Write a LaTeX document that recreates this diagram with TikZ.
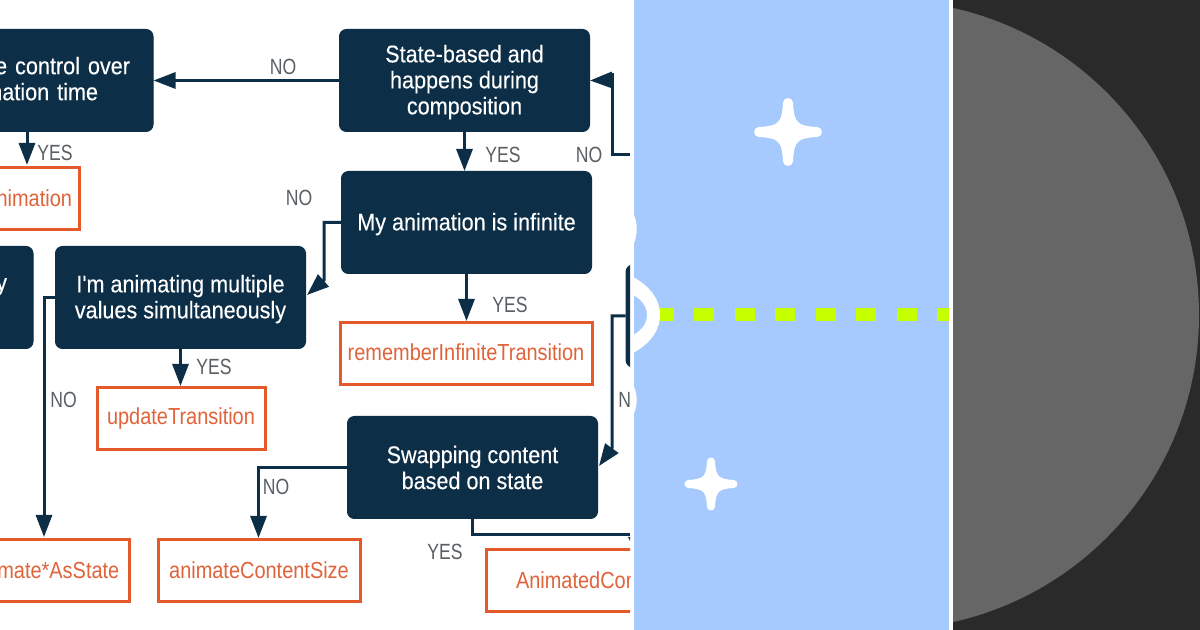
\documentclass[tikz,border=0pt]{standalone}
\usepackage{fontspec}
\setmainfont[FakeStretch=0.86]{Liberation Sans}
\newfontfamily\boxfont[FakeStretch=0.9,FakeBold=0.2]{Liberation Sans}
\newfontfamily\answerfont[FakeStretch=0.8]{Liberation Sans}
\usetikzlibrary{arrows.meta}
\definecolor{navy}{HTML}{0D2E47}
\definecolor{rust}{HTML}{E45A2B}
\definecolor{rusttext}{HTML}{E0633A}
\definecolor{labelgrey}{HTML}{5A5F63}
\definecolor{skyblue}{HTML}{A6CAFD}
\definecolor{lime}{HTML}{C6FF00}
\definecolor{charcoal}{HTML}{2A2A2A}
\definecolor{discgrey}{HTML}{666666}
\newcommand{\dn}{\rule{0pt}{10.3pt}}
\tikzset{
  x=0.5pt,y=-0.5pt,
  decision/.style={draw=navy,line width=0.5pt,fill=navy,rounded corners=3.5pt,text=white,align=center,
    minimum height=51pt,inner sep=0pt,font=\boxfont\fontsize{12pt}{13pt}\selectfont},
  result/.style={draw=rust,line width=1.5pt,fill=white,text=rusttext,align=center,
    minimum height=31pt,inner sep=0pt,font=\fontsize{11.6pt}{13pt}\selectfont},
  answer/.style={text=labelgrey,inner sep=0pt,font=\answerfont\fontsize{11pt}{12pt}\selectfont},
  link/.style={draw=navy,line width=1.5pt,-{Triangle[length=11pt,width=8pt]}},
  plainlink/.style={draw=navy,line width=1.5pt},
  sparkle/.style={fill=white,draw=white,line join=round},
}
\begin{document}
\begin{tikzpicture}
\useasboundingbox (0,0) rectangle (1200,630);
\fill[white] (0,0) rectangle (1200,630);
\begin{scope}
\clip (0,0) rectangle (630,630);
\node[decision,minimum width=120pt,text width=97pt,align=right] (fine) at (33,80.5) {fine control over\\animation time\hspace*{16pt}\rule[-2pt]{0pt}{1pt}};
\node[decision,minimum width=125pt] (state) at (464.5,80.5) {\dn State-based and\\happens during\\composition};
\node[decision,minimum width=125pt] (infinite) at (466.5,222.5) {\dn My animation is infinite};
\node[decision,minimum width=125pt] (multi) at (180.5,297.5) {\dn I'm animating multiple\\values simultaneously};
\node[decision,minimum width=125pt,text width=99pt,align=right] (hidden) at (-92,297.5) {y\\\mbox{}};
\node[decision,minimum width=125pt] (offright) at (751,316) {};
\node[decision,minimum width=125pt] (swap) at (472.5,467.5) {Swapping content\\based on state};
\node[result,minimum width=119pt,text width=112pt,align=right] (anim) at (-40,198.5) {Animation};
\node[result,minimum width=126pt] (rit) at (466,353.5) {rememberInfiniteTransition\rule[-1.5pt]{0pt}{1pt}};
\node[result,minimum width=84pt] (update) at (181,418.5) {updateTransition};
\node[result,minimum width=84pt] (asstate) at (45,570.5) {animate*AsState};
\node[result,minimum width=101pt] (size) at (259,570.5) {animateContentSize};
\node[result,minimum width=150pt,text width=120pt,align=left] (content) at (636,580.5) {AnimatedContent};
\coordinate (stateback) at (630,155);
\draw[link] (state.west) -- (fine.east);
\draw[link] (27,132) -- (27,165);
\draw[plainlink] (stateback) -- (612,155) -- (612,73);
\draw[link] (612,80) -- (state.east);
\draw[link] (state.south) -- (infinite.north -| state.south);
\draw[link] (infinite.south) -- (rit.north -| infinite.south);
\draw[link] (infinite.west) -- (324,222.5) -- (324,280) -- (307,295);
\draw[link] (multi.south) -- (update.north -| multi.south);
\draw[plainlink] (multi.west) -- (44,297.5) -- (44,400);
\draw[link] (44,400) -- (44,537);
\draw[link] (swap.west) -- (258.5,467.5) -- (size.north -| 258.5,467.5);
\draw[link] (offright.west) -- (612,316) -- (612,448) -- (599,466);
\draw[plainlink] (swap.south -| 472,519) -- (472,534.5) -- (630,534.5);
\fill[navy] (628,537) -- (630,537) -- (630,541) -- cycle;
\node[answer] (n1) at (283,67) {NO};
\node[answer] (n2) at (299,198) {NO};
\node[answer] (n3) at (589,155) {NO};
\node[answer] (n4) at (63.5,400) {NO};
\node[answer] (n5) at (276,487) {NO};
\node[answer,anchor=west] (n6) at (618,400) {NO};
\node[answer] (y1) at (55,153) {YES};
\node[answer] (y2) at (503,155) {YES};
\node[answer] (y3) at (510,305) {YES};
\node[answer] (y4) at (214,367) {YES};
\node[answer] (y5) at (445,552) {YES};
\end{scope}
% blue panel
\fill[skyblue] (634,0) rectangle (949,630);
\fill[white] (633,213) .. controls (638,222) and (638,236) .. (633,245) -- cycle;
\fill[white] (633,385) .. controls (638,393) and (638,407) .. (633,415) -- cycle;
\fill[white] (633,277) .. controls (648,285) and (660,298) .. (660,315) .. controls (660,332) and (648,345) .. (633,353)
  -- (633,335) .. controls (641,331) and (647,324) .. (647,315) .. controls (647,306) and (641,299) .. (633,295) -- cycle;
\fill[lime] (660,308.5) rectangle (674,321.5);
\draw[lime,line width=6.5pt,dash pattern=on 10.2pt off 10.05pt] (694,315) -- (949,315);
% sparkles
\fill[sparkle,line width=5pt] (788,103) .. controls (789,125.5) and (794.5,131) .. (817,132) .. controls (794.5,133) and (789,138.5) .. (788,161)
  .. controls (787,138.5) and (781.5,133) .. (759,132) .. controls (781.5,131) and (787,125.5) .. (788,103) -- cycle;
\fill[sparkle,line width=4pt] (711,461.5) .. controls (712,479) and (716,483) .. (733.5,484) .. controls (716,485) and (712,489) .. (711,506.5)
  .. controls (710,489) and (706,485) .. (688.5,484) .. controls (706,483) and (710,479) .. (711,461.5) -- cycle;
% dark panel
\fill[charcoal] (953,0) rectangle (1200,630);
\begin{scope}
\clip (953,0) rectangle (1200,630);
\fill[discgrey] (884.5,315) circle[radius=314.5];
\end{scope}
\end{tikzpicture}
\end{document}
